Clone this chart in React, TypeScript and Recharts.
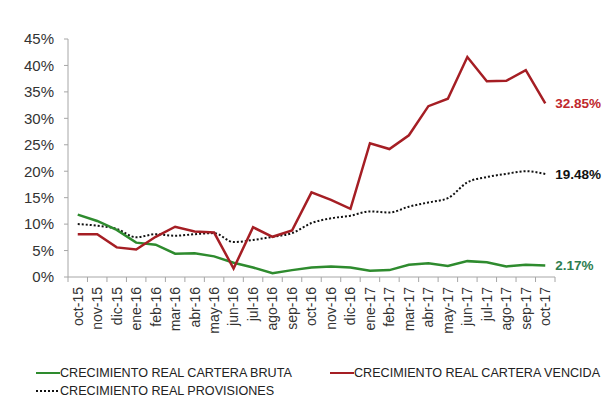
import { LineChart, Line, XAxis, YAxis } from 'recharts';

const months = [
  'oct-15', 'nov-15', 'dic-15', 'ene-16', 'feb-16', 'mar-16', 'abr-16', 'may-16', 'jun-16',
  'jul-16', 'ago-16', 'sep-16', 'oct-16', 'nov-16', 'dic-16', 'ene-17', 'feb-17', 'mar-17',
  'abr-17', 'may-17', 'jun-17', 'jul-17', 'ago-17', 'sep-17', 'oct-17',
];

const carteraBruta = [
  11.8, 10.6, 8.9, 6.5, 6.1, 4.4, 4.5, 3.9, 2.7, 1.8, 0.7, 1.3, 1.8,
  2.0, 1.8, 1.2, 1.3, 2.3, 2.6, 2.1, 3.0, 2.8, 2.0, 2.3, 2.17,
];

const carteraVencida = [
  8.1, 8.1, 5.6, 5.2, 7.6, 9.5, 8.6, 8.4, 1.6, 9.4, 7.6, 8.8, 16.0,
  14.6, 12.9, 25.3, 24.2, 26.8, 32.3, 33.7, 41.6, 37.0, 37.1, 39.1, 32.85,
];

const provisiones = [
  10.0, 9.7, 9.1, 7.5, 8.1, 7.8, 8.1, 8.3, 6.6, 7.0, 7.6, 8.3, 10.2,
  11.1, 11.6, 12.4, 12.2, 13.3, 14.1, 14.9, 17.9, 18.9, 19.5, 20.0, 19.48,
];

const yTicks = [0, 5, 10, 15, 20, 25, 30, 35, 40, 45];

const seriesNames = {
  bruta: 'CRECIMIENTO REAL CARTERA BRUTA',
  vencida: 'CRECIMIENTO REAL CARTERA VENCIDA',
  provisiones: 'CRECIMIENTO REAL PROVISIONES',
};

const data = months.map((month, i) => ({
  month,
  bruta: carteraBruta[i],
  vencida: carteraVencida[i],
  provisiones: provisiones[i],
}));

const W = 610;
const H = 408;
const M = { top: 39, right: 55, bottom: 71, left: 0 };
const Y_AXIS_W = 68;
const X_AXIS_H = 60;
const PLOT_BOTTOM = H - M.bottom - X_AXIS_H;
const PLOT_W = W - M.left - M.right - Y_AXIS_W;
const STEP = PLOT_W / months.length;
const HALF = STEP / 2;

const AXIS_COLOR = '#A6A6A6';
const GREEN = '#2E8B2E';
const RED = '#A51E24';

const font = 'Arial, "Liberation Sans", sans-serif';

function MonthTick(props: any) {
  const { x, payload, index } = props;
  const last = index === months.length - 1;
  const ty = PLOT_BOTTOM + 10;
  return (
    <g>
      <line x1={x - HALF} x2={x - HALF} y1={PLOT_BOTTOM} y2={PLOT_BOTTOM + 5} stroke={AXIS_COLOR} />
      {last && (
        <line x1={x + HALF} x2={x + HALF} y1={PLOT_BOTTOM} y2={PLOT_BOTTOM + 5} stroke={AXIS_COLOR} />
      )}
      <text
        x={x}
        y={ty}
        dy="0.35em"
        textAnchor="end"
        transform={`rotate(-90, ${x}, ${ty})`}
        fontSize={14}
        fill="#333"
        fontFamily={font}
      >
        {payload.value}
      </text>
    </g>
  );
}

function endLabel(color: string) {
  return (props: any) => {
    const { x, y, value, index } = props;
    if (index !== months.length - 1) return null;
    return (
      <text x={x + 10} y={y} dy="0.35em" fontSize={13.5} fontWeight="bold" fill={color} fontFamily={font}>
        {Number(value).toFixed(2)}%
      </text>
    );
  };
}

function LegendItem({ color, dotted, label, left, top }: any) {
  return (
    <div style={{ position: 'absolute', left, top, display: 'flex', alignItems: 'center', whiteSpace: 'nowrap' }}>
      <svg width={24} height={6}>
        <line
          x1={0}
          x2={24}
          y1={3}
          y2={3}
          stroke={color}
          strokeWidth={2}
          strokeDasharray={dotted ? '2 2' : undefined}
        />
      </svg>
      <span style={{ fontSize: 12.6, color: '#222', fontFamily: font }}>{label}</span>
    </div>
  );
}

export default function App() {
  return (
    <div style={{ position: 'absolute', left: 0, top: 0, width: W, height: H, background: '#fff' }}>
      <LineChart width={W} height={H} data={data} margin={M}>
        <XAxis
          dataKey="month"
          interval={0}
          height={X_AXIS_H}
          padding={{ left: HALF, right: HALF }}
          tickLine={false}
          axisLine={{ stroke: AXIS_COLOR }}
          tick={<MonthTick />}
        />
        <YAxis
          width={Y_AXIS_W}
          domain={[0, 45]}
          ticks={yTicks}
          interval={0}
          tickFormatter={(v: number) => `${v}%`}
          tickSize={4}
          tickMargin={10}
          tickLine={{ stroke: AXIS_COLOR }}
          axisLine={{ stroke: AXIS_COLOR }}
          tick={{ fontSize: 15, fill: '#333', fontFamily: font }}
        />
        <Line
          dataKey="provisiones"
          name={seriesNames.provisiones}
          type="monotone"
          stroke="#111"
          strokeWidth={2}
          strokeDasharray="2 2"
          dot={false}
          isAnimationActive={false}
          label={endLabel('#111')}
        />
        <Line
          dataKey="bruta"
          name={seriesNames.bruta}
          type="linear"
          stroke={GREEN}
          strokeWidth={2.5}
          dot={false}
          isAnimationActive={false}
          label={endLabel('#2E7D4F')}
        />
        <Line
          dataKey="vencida"
          name={seriesNames.vencida}
          type="linear"
          stroke={RED}
          strokeWidth={2.5}
          dot={false}
          isAnimationActive={false}
          label={endLabel('#C0282D')}
        />
      </LineChart>
      <LegendItem color={GREEN} label={seriesNames.bruta} left={36} top={366} />
      <LegendItem color={RED} label={seriesNames.vencida} left={330} top={366} />
      <LegendItem color="#111" dotted label={seriesNames.provisiones} left={36} top={384} />
    </div>
  );
}
